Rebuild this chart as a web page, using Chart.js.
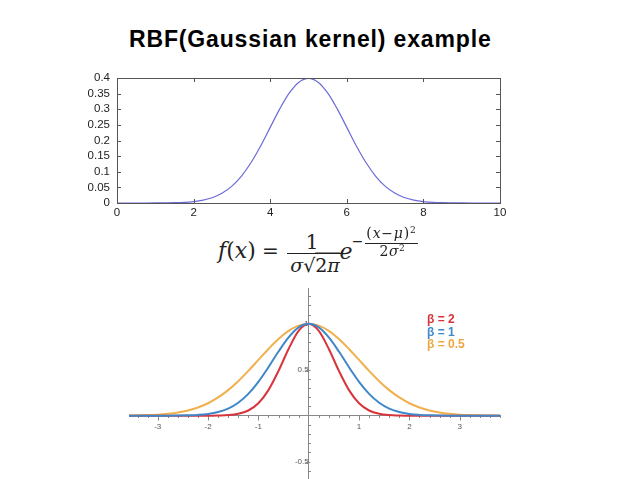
<!DOCTYPE html>
<html>
<head>
<meta charset="utf-8">
<script src="https://cdn.jsdelivr.net/npm/chart.js@4.4.1/dist/chart.umd.min.js"></script>
<style>
  html,body{margin:0;padding:0;background:#fff;}
  #page{position:relative;width:638px;height:479px;overflow:hidden;background:#fff;}
  #title{position:absolute;left:129px;top:26px;font:bold 23px "Liberation Sans",Arial,sans-serif;letter-spacing:0.85px;color:#000;white-space:nowrap;}
  canvas{position:absolute;}
  .fx{position:absolute;font-family:"DejaVu Serif","Liberation Serif",serif;color:#222;white-space:nowrap;transform:translate(-50%,-50%);line-height:1;}
  .bar{position:absolute;height:0;border-top:1.5px solid #222;}
  .leg{position:absolute;left:427px;font:bold 12px "Liberation Sans",Arial,sans-serif;white-space:nowrap;transform:translateY(-50%);line-height:1;}
  i{font-style:italic;}
  sup{font-size:0.65em;vertical-align:0.55em;line-height:0;}
</style>
</head>
<body>
<div id="page">
  <div id="title">RBF(Gaussian kernel) example</div>
  <canvas id="top" width="460" height="170" style="left:60px;top:60px;"></canvas>

  <div class="fx" style="left:237px;top:251.4px;font-size:22px;"><i>f</i>(<i>x</i>)</div>
  <div class="fx" style="left:270.5px;top:251.4px;font-size:20px;">=</div>
  <div class="fx" style="left:312px;top:241.8px;font-size:20px;">1</div>
  <div class="bar" style="left:287px;top:253px;width:56px;"></div>
  <div class="fx" style="left:315px;top:265px;font-size:19px;"><i>σ</i>√<span style="border-top:1.3px solid #222;">2<i>π</i></span></div>
  <div class="fx" style="left:346px;top:252.4px;font-size:22px;"><i>e</i></div>
  <div class="fx" style="left:357.5px;top:241px;font-size:14px;">−</div>
  <div class="fx" style="left:391.5px;top:233px;font-size:14px;letter-spacing:0.8px;">(<i>x</i>−<i>μ</i>)<sup>2</sup></div>
  <div class="bar" style="left:365px;top:242.5px;width:53px;border-top-width:1.2px;"></div>
  <div class="fx" style="left:392.5px;top:251px;font-size:14px;letter-spacing:0.5px;">2<i>σ</i><sup>2</sup></div>

  <canvas id="bot" width="420" height="199" style="left:100px;top:280px;"></canvas>
  <div class="leg" style="top:319px;color:#d9343c;">β = 2</div>
  <div class="leg" style="top:331.5px;color:#3f87c9;">β = 1</div>
  <div class="leg" style="top:344px;color:#eea544;">β = 0.5</div>
</div>
<script>
// ---------- top chart data (normal density, mean 5, sd 1) ----------
const topX = [0,0.25,0.5,0.75,1,1.25,1.5,1.75,2,2.25,2.5,2.75,3,3.25,3.5,3.75,4,4.25,4.5,4.75,5,
              5.25,5.5,5.75,6,6.25,6.5,6.75,7,7.25,7.5,7.75,8,8.25,8.5,8.75,9,9.25,9.5,9.75,10];
const topY = [0,0,0,0,0.0001,0.0004,0.0009,0.0020,0.0044,0.0091,0.0175,0.0317,0.0540,0.0863,0.1295,0.1826,0.2420,0.3011,0.3521,0.3867,0.3989,
              0.3867,0.3521,0.3011,0.2420,0.1826,0.1295,0.0863,0.0540,0.0317,0.0175,0.0091,0.0044,0.0020,0.0009,0.0004,0.0001,0,0,0,0];
const topXTicks = [0,2,4,6,8,10];
const topYTicks = [0,0.05,0.1,0.15,0.2,0.25,0.3,0.35,0.4];

// ---------- bottom chart data (RBF kernels) ----------
const botX = [-3.8,-3.6,-3.4,-3.2,-3.0,-2.8,-2.6,-2.4,-2.2,-2.0,-1.8,-1.6,-1.4,-1.2,-1.0,-0.8,-0.6,-0.4,-0.2,0,
              0.2,0.4,0.6,0.8,1.0,1.2,1.4,1.6,1.8,2.0,2.2,2.4,2.6,2.8,3.0,3.2,3.4,3.6,3.8];
const beta2 = [0,0,0,0,0,0,0,0,0,0,0.002,0.006,0.020,0.056,0.135,0.278,0.487,0.726,0.923,1,
               0.923,0.726,0.487,0.278,0.135,0.056,0.020,0.006,0.002,0,0,0,0,0,0,0,0,0,0];
const beta1 = [0,0,0,0,0,0,0.001,0.003,0.008,0.018,0.039,0.077,0.141,0.237,0.368,0.527,0.698,0.852,0.961,1,
               0.961,0.852,0.698,0.527,0.368,0.237,0.141,0.077,0.039,0.018,0.008,0.003,0.001,0,0,0,0,0,0];
const beta05 = [0.001,0.002,0.003,0.006,0.011,0.020,0.034,0.056,0.089,0.135,0.198,0.278,0.375,0.487,0.607,0.726,0.835,0.923,0.980,1,
                0.980,0.923,0.835,0.726,0.607,0.487,0.375,0.278,0.198,0.135,0.089,0.056,0.034,0.020,0.011,0.006,0.003,0.002,0.001];
const botXLabels = [-3,-2,-1,1,2,3];
const botYLabels = [-0.5,0.5,1];

const pts = (xs, ys) => xs.map((x,i)=>({x:x, y:ys[i]}));

// plugin: box border with inward ticks on all four sides
const boxTicks = {
  id:'boxTicks',
  afterDraw(chart){
    const {ctx, chartArea:a, scales:{x,y}} = chart;
    ctx.save();
    ctx.strokeStyle='#555'; ctx.lineWidth=1;
    ctx.strokeRect(Math.round(a.left)+0.5, Math.round(a.top)+0.5, Math.round(a.right-a.left), Math.round(a.bottom-a.top));
    ctx.beginPath();
    topXTicks.forEach(v=>{
      const px=Math.round(x.getPixelForValue(v))+0.5;
      ctx.moveTo(px,a.bottom); ctx.lineTo(px,a.bottom-4);
      ctx.moveTo(px,a.top); ctx.lineTo(px,a.top+4);
    });
    topYTicks.forEach(v=>{
      const py=Math.round(y.getPixelForValue(v))+0.5;
      ctx.moveTo(a.left,py); ctx.lineTo(a.left+4,py);
      ctx.moveTo(a.right,py); ctx.lineTo(a.right-4,py);
    });
    ctx.stroke();
    ctx.restore();
  }
};

const labelFont = {family:'"Liberation Sans", Arial, sans-serif', size:11.5};
new Chart(document.getElementById('top'), {
  type:'line',
  data:{datasets:[{data:pts(topX,topY), borderColor:'#6b6bd8', borderWidth:1.2, pointRadius:0, cubicInterpolationMode:'monotone', fill:false}]},
  options:{
    responsive:false, animation:false, events:[],
    layout:{padding:{top:18,right:20,left:0,bottom:0}},
    plugins:{legend:{display:false}, tooltip:{enabled:false}},
    scales:{
      x:{type:'linear', min:0, max:10,
         afterFit:s=>{s.height=27; s.paddingLeft=0; s.paddingRight=0;},
         afterBuildTicks:s=>{s.ticks=topXTicks.map(v=>({value:v}));},
         grid:{display:false, drawTicks:false}, border:{display:false},
         ticks:{padding:3, color:'#222', font:labelFont, maxRotation:0, autoSkip:false}},
      y:{type:'linear', min:0, max:0.4,
         afterFit:s=>{s.width=57; s.paddingTop=0; s.paddingBottom=0;},
         afterBuildTicks:s=>{s.ticks=topYTicks.map(v=>({value:v}));},
         grid:{display:false, drawTicks:false}, border:{display:false},
         ticks:{padding:7, color:'#222', font:labelFont, autoSkip:false,
                callback:v=>String(+v.toFixed(2))}}
    }
  },
  plugins:[boxTicks]
});

// plugin: minor/major tick marks on centered axes
const axisTicks = {
  id:'axisTicks',
  beforeDatasetsDraw(chart){
    const {ctx, scales:{x,y}} = chart;
    const x0 = Math.round(x.getPixelForValue(0))+0.5;
    const y0 = Math.round(y.getPixelForValue(0))+0.5;
    ctx.save();
    ctx.strokeStyle='#888'; ctx.lineWidth=1;
    ctx.beginPath();
    for(let k=-17;k<=19;k++){
      if(k===0) continue;
      const v=k/5, px=Math.round(x.getPixelForValue(v))+0.5;
      const major = k%5===0;
      ctx.moveTo(px, y0-(major?1:1.5)); ctx.lineTo(px, y0+(major?4:1.5));
    }
    for(let k=-6;k<=13;k++){
      if(k===0) continue;
      const v=k/10, py=Math.round(y.getPixelForValue(v))+0.5;
      const major = k%5===0;
      ctx.moveTo(x0-(major?4:1.5), py); ctx.lineTo(x0+(major?1:1.5), py);
    }
    ctx.stroke();
    ctx.restore();
  }
};

const tickFont = {family:'"Liberation Sans", Arial, sans-serif', size:8};
new Chart(document.getElementById('bot'), {
  type:'line',
  data:{datasets:[
    {label:'β = 1', data:pts(botX,beta1), borderColor:'#3f87c9', borderWidth:2, pointRadius:0, cubicInterpolationMode:'monotone', fill:false},
    {label:'β = 2', data:pts(botX,beta2), borderColor:'#d9343c', borderWidth:2, pointRadius:0, cubicInterpolationMode:'monotone', fill:false},
    {label:'β = 0.5', data:pts(botX,beta05), borderColor:'#f1b04e', borderWidth:2, pointRadius:0, cubicInterpolationMode:'monotone', fill:false}
  ]},
  options:{
    responsive:false, animation:false, events:[],
    layout:{padding:{top:8,right:20,left:29,bottom:0}},
    plugins:{legend:{display:false}, tooltip:{enabled:false}},
    scales:{
      x:{type:'linear', min:-3.57, max:3.8, position:{y:0},
         afterFit:s=>{s.height=0; s.paddingLeft=0; s.paddingRight=0; s.paddingTop=0; s.paddingBottom=0;},
         afterBuildTicks:s=>{s.ticks=botXLabels.map(v=>({value:v}));},
         grid:{display:false, drawTicks:false}, border:{display:true, color:'#888', width:1},
         ticks:{padding:6, color:'#555', font:tickFont, maxRotation:0, autoSkip:false}},
      y:{type:'linear', min:-0.69, max:1.39, position:{x:0},
         afterFit:s=>{s.width=0; s.paddingLeft=0; s.paddingRight=0; s.paddingTop=0; s.paddingBottom=0;},
         afterBuildTicks:s=>{s.ticks=botYLabels.map(v=>({value:v}));},
         grid:{display:false, drawTicks:false}, border:{display:true, color:'#888', width:1},
         ticks:{padding:6, color:'#555', font:tickFont, autoSkip:false}}
    }
  },
  plugins:[axisTicks]
});
</script>
</body>
</html>
